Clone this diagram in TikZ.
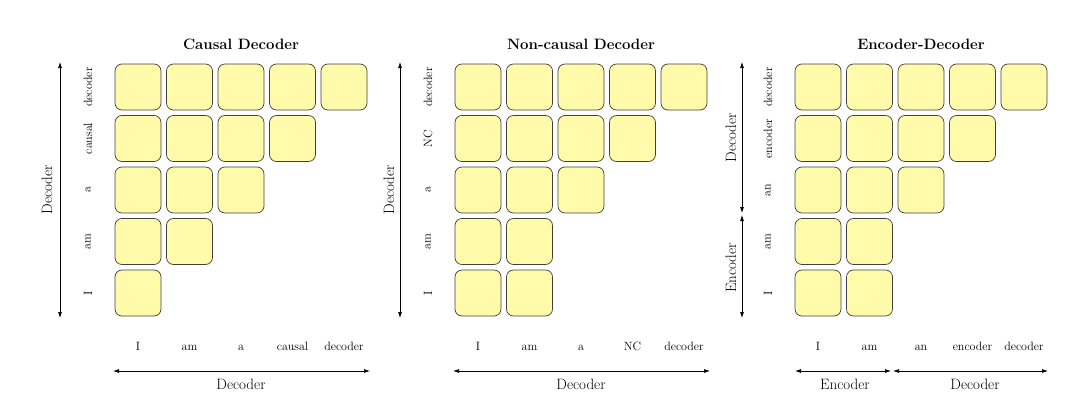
\documentclass[tikz,border=0pt]{standalone}
\usetikzlibrary{arrows.meta}
\begin{document}
\begin{tikzpicture}[x=1pt,y=-1pt,
  cell/.style={draw=black!75,fill=yellow!33,rounded corners=7pt,minimum width=46pt,minimum height=46pt,inner sep=0pt,line width=0.7pt},
  ttl/.style={font=\fontsize{15}{18}\selectfont\bfseries},
  lab/.style={font=\fontsize{12}{14}\selectfont},
  axl/.style={font=\fontsize{15}{18}\selectfont},
  arr/.style={{Latex[length=6pt,width=4pt]}-{Latex[length=6pt,width=4pt]},line width=0.7pt}]
\useasboundingbox (0,0) rectangle (1080,407);
\foreach \p/\t in {0/Causal Decoder,340/Non-causal Decoder,680/Encoder-Decoder}{
  \node[ttl] (t\p) at (241+\p,44) {\t};
  \foreach \r in {1,...,5}{
    \pgfmathtruncatemacro{\n}{6-\r}
    \foreach \c in {1,...,\n}{
      \node[cell] (c\p-\r-\c) at ({138+\p+(\c-1)*51.5},{87+(\r-1)*51.5}) {};
    }
  }
}
% extra cells (bidirectional prefix)
\node[cell] (x1) at (529.5,293) {};
\node[cell] (x2) at (869.5,293) {};
% row labels
\foreach \p/\a/\b/\cc/\d/\e in {0/I/am/a/causal/decoder,340/I/am/a/NC/decoder,680/I/am/an/encoder/decoder}{
  \node[lab,rotate=90] (r\p-5) at (88+\p,293) {\a};
  \node[lab,rotate=90] (r\p-4) at (88+\p,241.5) {\b};
  \node[lab,rotate=90] (r\p-3) at (88+\p,190) {\cc};
  \node[lab,rotate=90] (r\p-2) at (88+\p,138.5) {\d};
  \node[lab,rotate=90] (r\p-1) at (88+\p,87) {\e};
  \node[lab,anchor=base] (k\p-1) at (138+\p,350) {\a};
  \node[lab,anchor=base] (k\p-2) at (189.5+\p,350) {\b};
  \node[lab,anchor=base] (k\p-3) at (241+\p,350) {\cc};
  \node[lab,anchor=base] (k\p-4) at (292.5+\p,350) {\d};
  \node[lab,anchor=base] (k\p-5) at (344+\p,350) {\e};
}
% axes
\coordinate (v0a) at (60,62); \coordinate (v0b) at (60,318);
\draw[arr] (v0a) -- (v0b);
\node[axl,rotate=90] (V0) at (47,190) {Decoder};
\coordinate (h0a) at (113,371); \coordinate (h0b) at (370,371);
\draw[arr] (h0a) -- (h0b);
\node[axl] (H0) at (241,384) {Decoder};
\coordinate (v1a) at (400,62); \coordinate (v1b) at (400,318);
\draw[arr] (v1a) -- (v1b);
\node[axl,rotate=90] (V1) at (389,190) {Decoder};
\coordinate (h1a) at (453,371); \coordinate (h1b) at (710,371);
\draw[arr] (h1a) -- (h1b);
\node[axl] (H1) at (581,384) {Decoder};
\coordinate (v2a) at (742,62); \coordinate (v2b) at (742,213); \coordinate (v2c) at (742,215); \coordinate (v2d) at (742,318);
\draw[arr] (v2a) -- (v2b);
\draw[arr] (v2c) -- (v2d);
\node[axl,rotate=90] (V2) at (731,138) {Decoder};
\node[axl,rotate=90] (V3) at (731,268) {Encoder};
\coordinate (h2a) at (795,371); \coordinate (h2b) at (891,371); \coordinate (h2c) at (893,371); \coordinate (h2d) at (1048,371);
\draw[arr] (h2a) -- (h2b);
\draw[arr] (h2c) -- (h2d);
\node[axl] (H2) at (845,384) {Encoder};
\node[axl] (H3) at (975,384) {Decoder};
\end{tikzpicture}
\end{document}
